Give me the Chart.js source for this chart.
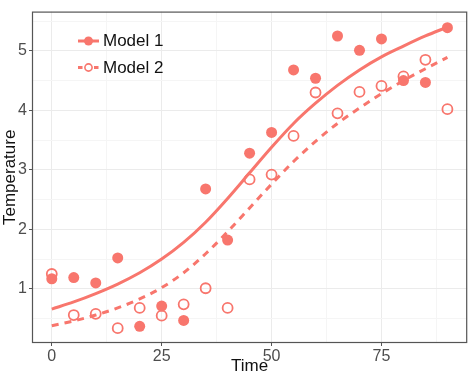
<!DOCTYPE html>
<html>
<head>
<meta charset="utf-8">
<script src="https://cdn.jsdelivr.net/npm/chart.js@4"></script>
<style>
html, body { margin: 0; padding: 0; background: #fff; }
</style>
</head>
<body>
<canvas id="chart" width="474" height="377"></canvas>
<script>
"use strict"

// time points where observations and fitted curves are read
const times = [0, 5, 10, 15, 20, 25, 30, 35, 40, 45, 50, 55, 60, 65, 70, 75, 80, 85, 90]

// observed values (points)
const model1Obs = [1.17, 1.19, 1.10, 1.52, 0.37, 0.71, 0.47, 2.68, 1.82, 3.28, 3.63, 4.68, 4.54, 5.25, 5.01, 5.20, 4.50, 4.47, 5.39]
const model2Obs = [1.25, 0.56, 0.58, 0.34, 0.68, 0.55, 0.74, 1.01, 0.68, 2.84, 2.92, 3.57, 4.30, 3.95, 4.31, 4.41, 4.57, 4.85, 4.02]

// fitted curves (lines)
const model1Fit = [0.66, 0.78, 0.92, 1.08, 1.27, 1.50, 1.78, 2.12, 2.52, 2.95, 3.38, 3.78, 4.12, 4.42, 4.68, 4.90, 5.08, 5.25, 5.40]
const model2Fit = [0.38, 0.46, 0.56, 0.68, 0.83, 1.02, 1.27, 1.59, 1.96, 2.36, 2.76, 3.14, 3.48, 3.78, 4.04, 4.28, 4.50, 4.70, 4.89]

const seriesNames = ['Model 1', 'Model 2']
const xTicks = [0, 12.5, 25, 37.5, 50, 62.5, 75, 87.5]
const yTicks = [0.5, 1, 1.5, 2, 2.5, 3, 3.5, 4, 4.5, 5, 5.5]

const red = '#F8766D'
const fontName = '"Liberation Sans", Arial, sans-serif'

const toXY = (ys) => times.map((t, i) => ({ x: t, y: ys[i] }))

// ritar ramen runt panelen och legenden inne i diagrammet
const panelPlugin = {
    id: 'panel',
    afterDraw(chart) {
        const ctx = chart.ctx
        const a = chart.chartArea
        ctx.save()
        ctx.strokeStyle = '#555'
        ctx.lineWidth = 1.2
        ctx.strokeRect(a.left + 0.5, a.top + 0.5, a.right - a.left - 1, a.bottom - a.top - 1)

        const rows = [41, 67.5]
        rows.forEach((y, i) => {
            ctx.strokeStyle = red
            ctx.lineWidth = 3
            ctx.setLineDash(i === 0 ? [] : [4.5, 3.5])
            ctx.beginPath()
            ctx.moveTo(78, y)
            ctx.lineTo(99, y)
            ctx.stroke()
            ctx.setLineDash([])
            ctx.beginPath()
            ctx.arc(88.5, y, i === 0 ? 4.5 : 3.6, 0, Math.PI * 2)
            if (i === 0) {
                ctx.fillStyle = red
                ctx.fill()
            } else {
                ctx.fillStyle = '#fff'
                ctx.fill()
                ctx.lineWidth = 1.6
                ctx.stroke()
            }
            ctx.fillStyle = '#111'
            ctx.font = '17px ' + fontName
            ctx.textBaseline = 'middle'
            ctx.textAlign = 'left'
            ctx.fillText(seriesNames[i], 103, y + 0.5)
        })
        ctx.restore()
    }
}

const ctx = document.getElementById('chart').getContext('2d')
new Chart(ctx, {
    type: 'scatter',
    data: {
        datasets: [
            {
                label: seriesNames[0] + ' fit',
                data: toXY(model1Fit),
                showLine: true,
                borderColor: red,
                borderWidth: 3,
                pointRadius: 0,
                cubicInterpolationMode: 'monotone',
                order: 4
            },
            {
                label: seriesNames[1] + ' fit',
                data: toXY(model2Fit),
                showLine: true,
                borderColor: red,
                borderWidth: 3,
                borderDash: [7, 6],
                pointRadius: 0,
                cubicInterpolationMode: 'monotone',
                order: 3
            },
            {
                label: seriesNames[0],
                data: toXY(model1Obs),
                backgroundColor: red,
                borderColor: red,
                borderWidth: 0,
                pointRadius: 5.5,
                order: 2
            },
            {
                label: seriesNames[1],
                data: toXY(model2Obs),
                backgroundColor: 'rgba(0,0,0,0)',
                borderColor: red,
                borderWidth: 1.8,
                pointRadius: 5,
                order: 1
            }
        ]
    },
    options: {
        responsive: false,
        animation: false,
        devicePixelRatio: 1,
        layout: { padding: { left: 0, right: 5, top: 2, bottom: 0 } },
        plugins: {
            legend: { display: false },
            tooltip: { enabled: false }
        },
        scales: {
            x: {
                type: 'linear',
                min: -4.5,
                max: 94.5,
                afterBuildTicks: scale => { scale.ticks = xTicks.map(v => ({ value: v })) },
                afterFit: scale => { scale.height = 34 },
                border: { display: false },
                grid: {
                    color: c => (c.tick && c.tick.value % 25 === 0) ? '#ebebeb' : '#f5f5f5',
                    tickColor: c => (c.tick && c.tick.value % 25 === 0) ? '#555' : 'rgba(0,0,0,0)',
                    tickLength: 3
                },
                ticks: {
                    color: '#4d4d4d',
                    font: { family: fontName, size: 16 },
                    padding: 1,
                    maxRotation: 0,
                    autoSkip: false,
                    callback: v => v % 25 === 0 ? String(v) : ''
                },
                title: {
                    display: true,
                    text: 'Time',
                    color: '#111',
                    font: { family: fontName, size: 17 },
                    padding: 0
                }
            },
            y: {
                type: 'linear',
                min: 0.09,
                max: 5.66,
                afterBuildTicks: scale => { scale.ticks = yTicks.map(v => ({ value: v })) },
                afterFit: scale => { scale.width = 32 },
                border: { display: false },
                grid: {
                    color: c => (c.tick && c.tick.value % 1 === 0) ? '#ebebeb' : '#f5f5f5',
                    tickColor: c => (c.tick && c.tick.value % 1 === 0) ? '#555' : 'rgba(0,0,0,0)',
                    tickLength: 3
                },
                ticks: {
                    color: '#4d4d4d',
                    font: { family: fontName, size: 16 },
                    padding: 2,
                    autoSkip: false,
                    callback: v => v % 1 === 0 ? String(v) : ''
                },
                title: {
                    display: true,
                    text: 'Temperature',
                    color: '#111',
                    font: { family: fontName, size: 17 },
                    padding: 0
                }
            }
        }
    },
    plugins: [panelPlugin]
})
</script>
</body>
</html>
